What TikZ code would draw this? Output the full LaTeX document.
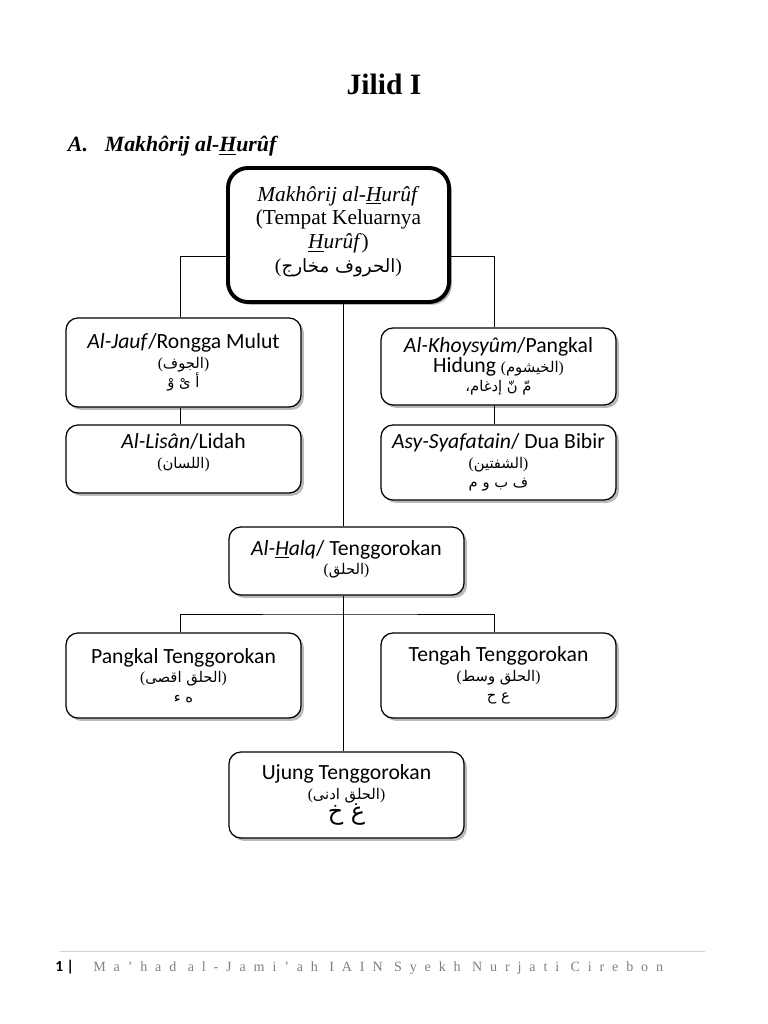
\documentclass[tikz,border=0pt]{standalone}
\usepackage{fontspec}
\setmainfont{Liberation Serif}
\newfontfamily\boxfont{Carlito}
\newfontfamily\footfont[LetterSpace=56]{Liberation Serif}
\newfontfamily\arabicfont[Script=Arabic]{DejaVu Sans}
\TeXXeTstate=1
\usepackage{tikz}
\newcommand*{\pageW}{768}
\newcommand*{\pageH}{1024}
\newcommand*{\ar}[1]{{\arabicfont\fontsize{10.5}{12}\selectfont\beginR #1\endR}}
\newcommand*{\arp}[1]{{\rmfamily\fontsize{11}{12}\selectfont(\ar{#1})}}
\usetikzlibrary{positioning}
\usetikzlibrary{shadows}
\tikzset{chartbox/.style={
    draw=black,% plain box border
    line width=0.9pt,
    rounded corners=0.3cm,
    fill=white,
    drop shadow={shadow xshift=0.07cm,shadow yshift=-0.07cm,fill=black!50,opacity=0.55},
    minimum width=5.875cm,
    align=center,
    inner sep=2pt,
    font=\boxfont\fontsize{15.4}{14}\selectfont
  },
  rootbox/.style={
    chartbox,
    line width=2.8pt,% heavy border for the root
    rounded corners=0.5cm,
    minimum width=5.525cm,
    minimum height=3.35cm,
    font=\fontsize{15.2}{17}\selectfont
  },
  link/.style={draw=black,line width=0.7pt}
}
\begin{document}
\begin{tikzpicture}[x=0.025cm,y=-0.025cm]
    \path[fill=white] (0,0) rectangle (\pageW,\pageH);
    \useasboundingbox (0,0) rectangle (\pageW,\pageH);

    % heading
    \node (title) at (384,84) {\fontsize{21}{25}\selectfont\bfseries Jilid I};
    \node[anchor=base west] (secnum) at (63,152) {\fontsize{15.5}{18}\selectfont\bfseries\itshape A.};
    \node[anchor=base west] (sectitle) at (100,152) {\fontsize{15.5}{18}\selectfont\bfseries\itshape Makhôrij al-\underline{H}urûf};

    % boxes
    \node[rootbox] (top) at (338.5,235) {\textit{Makhôrij al-\underline{H}urûf}\\(Tempat Keluarnya\\\textit{\underline{H}urûf})\\{\fontsize{14}{15}\selectfont(\arabicfont\fontsize{13}{15}\selectfont\beginR الحروف مخارج\endR\rmfamily\fontsize{14}{15}\selectfont)}\rule[-8pt]{0pt}{0pt}};
    \node[chartbox,minimum height=2.225cm] (jauf) at (183.5,362.5) {\textit{Al-Jauf}/Rongga Mulut\\\arp{الجوف}\\\ar{أ ىْ وْ}};
    \node[chartbox,minimum height=1.925cm] (khoy) at (498.5,366.5) {\textit{Al-Khoysyûm}/Pangkal\\Hidung \arp{الخيشوم}\\\ar{مّ نّ إدغام،}};
    \node[chartbox,minimum height=1.7cm] (lisan) at (183.5,459) {\textit{Al-Lisân}/Lidah\\\arp{اللسان}\rule[-11pt]{0pt}{0pt}};
    \node[chartbox,minimum height=1.875cm] (syafa) at (498.5,462.5) {\textit{Asy-Syafatain}/ Dua Bibir\\\arp{الشفتين}\\\ar{ف ب و م}};
    \node[chartbox,minimum height=1.7cm] (halq) at (346.5,561) {\textit{Al-\underline{H}alq}/ Tenggorokan\\\arp{الحلق}\rule[-5pt]{0pt}{0pt}};
    \node[chartbox,minimum height=2.125cm] (pangkal) at (183.5,675.5) {Pangkal Tenggorokan\\\arp{الحلق اقصى}\\\ar{ه ء}};
    \node[chartbox,minimum height=2.125cm] (tengah) at (498.5,675.5) {Tengah Tenggorokan\\\arp{الحلق وسط}\\\ar{ع ح}};
    \node[chartbox,minimum height=2.15cm] (ujung) at (346.5,795) {Ujung Tenggorokan\\\arp{الحلق ادنى}\\{\arabicfont\fontsize{17}{18}\selectfont\beginR غ خ\endR}};

    % connectors
    \coordinate (ljoin) at (180,256);
    \coordinate (rjoin) at (494,256);
    \coordinate (spine) at (343,614);
    \draw[link] (top.west |- ljoin) -- (ljoin) -- (jauf.north -| ljoin);
    \draw[link] (top.east |- rjoin) -- (rjoin) -- (khoy.north -| rjoin);
    \draw[link] (jauf.south -| ljoin) -- (lisan.north -| ljoin);
    \draw[link] (khoy.south -| rjoin) -- (syafa.north -| rjoin);
    \draw[link] (top.south -| spine) -- (halq.north -| spine);
    \draw[link] (halq.south -| spine) -- (ujung.north -| spine);
    \draw[link] (pangkal.north -| ljoin) |- (spine) -| (tengah.north -| rjoin);

    % footer
    \draw[gray!35,line width=0.6pt] (60,951) -- (705,951);
    \node[anchor=base west,inner sep=0pt] (pagenum) at (55,971) {\boxfont\fontsize{11}{13}\selectfont\bfseries 1 |};
    \node[anchor=base west,inner sep=0pt] (footer) at (93,971) {\footfont\fontsize{10}{11}\selectfont\color{gray}Ma’had al-Jami’ah IAIN Syekh Nurjati Cirebon};
\end{tikzpicture}
\end{document}
